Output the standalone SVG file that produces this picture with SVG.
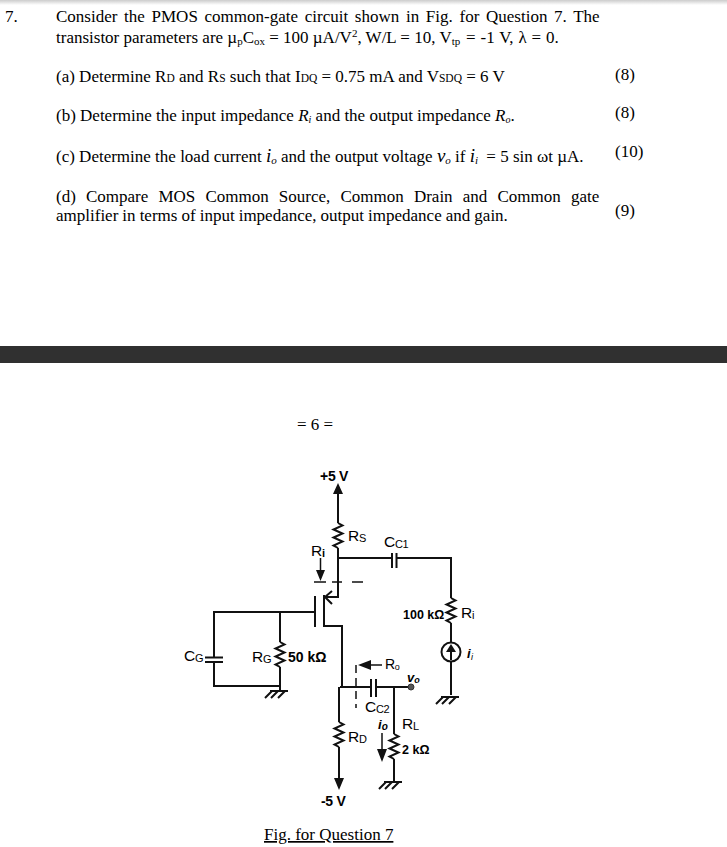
<svg xmlns="http://www.w3.org/2000/svg" width="727" height="847" viewBox="0 0 727 847">
<style>
text{fill:#000}
.s{font-family:"Liberation Serif","Times New Roman",serif;font-size:17px}
.i{font-style:italic}
.a{font-family:"Liberation Sans",Arial,sans-serif;font-size:15.500px;letter-spacing:-0.3px}
.b{font-family:"Liberation Sans",Arial,sans-serif;font-weight:bold;font-size:14px}
.w{fill:none;stroke:#111;stroke-width:2;stroke-linejoin:miter}
.t{fill:none;stroke:#111;stroke-width:1.5}
.ah{fill:#111;stroke:none}
</style>
<defs>
<linearGradient id="top" x1="0" y1="0" x2="0" y2="1"><stop offset="0" stop-color="#ccc"/><stop offset="1" stop-color="#fff"/></linearGradient>
<g id="gnd"><path class="w" d="M-10 0H8M-8 0l-7 7M-2 0l-7 7M5 0l-7 7"/></g>
<path id="res" class="w" d="M0 0L4.500 2.500L-4.500 6.500L4.500 10.500L-4.500 14.500L4.500 18.500L-4.500 22.500L0 25"/>
</defs>
<rect width="727" height="847" fill="#fff"/>
<rect width="727" height="5" fill="url(#top)"/>
<rect y="346" width="727" height="17" fill="#303030"/>
<g id="question">
<text class="s" x="5" y="22">7.</text>
<text class="s" x="56" y="22" word-spacing="2.450">Consider the PMOS common-gate circuit shown in Fig. for Question 7. The</text>
<text class="s" x="56" y="43">transistor parameters are µ<tspan font-size="11" dy="2">p</tspan><tspan dy="-2">C</tspan><tspan font-size="11" dy="2">ox</tspan><tspan dy="-2"> = 100 µA/V</tspan><tspan font-size="11" dy="-6">2</tspan><tspan dy="6">,  W/L = 10, V</tspan><tspan font-size="11" dy="2">tp</tspan><tspan dy="-2" dx="1" word-spacing="0.600"> = -1 V, λ = 0.</tspan></text>
<text class="s" x="56" y="82">(a) Determine R<tspan font-size="11.500">D</tspan> and R<tspan font-size="11.500">S</tspan> such that I<tspan font-size="11.500">DQ</tspan> = 0.75 mA and V<tspan font-size="11.500">SDQ</tspan> = 6 V</text>
<text class="s" x="56" y="121">(b) Determine the input impedance <tspan class="i">R</tspan><tspan class="i" font-size="10" dy="2">i</tspan><tspan dy="-2"> and the output impedance </tspan><tspan class="i">R</tspan><tspan class="i" font-size="10" dy="2">o</tspan><tspan dy="-2">.</tspan></text>
<text class="s" x="56" y="162">(c) Determine the load current <tspan class="i" font-size="19">i</tspan><tspan class="i" font-size="11" dy="2">o</tspan><tspan dy="-2"> and the output voltage </tspan><tspan class="i" font-size="19">v</tspan><tspan class="i" font-size="11" dy="2">o</tspan><tspan dy="-2"> if </tspan><tspan class="i" font-size="19">i</tspan><tspan class="i" font-size="11" dy="2">i</tspan><tspan dy="-2" dx="4">  = 5 sin ωt µA.</tspan></text>
<text class="s" x="56" y="202" word-spacing="5.900">(d) Compare MOS Common Source, Common Drain and Common gate</text>
<text class="s" x="56" y="221" word-spacing="-0.200">amplifier in terms of input impedance, output impedance and gain.</text>
<text class="s" x="615" y="80">(8)</text>
<text class="s" x="615" y="118">(8)</text>
<text class="s" x="615" y="157">(10)</text>
<text class="s" x="615" y="216">(9)</text>
<text class="s" x="297" y="430">= 6 =</text>
</g>
<g id="connectors">
<path class="w" d="M338 490V523M338 548V597H325M324 595V626H342V687M339 687V722M339 747V780"/>
<path class="w" d="M338 558H392M397 558H451V598M451 623V642M451 662V695"/>
<path class="w" d="M214 657V612H315M280 612V642M280 667V691M214 662V686H280"/>
<path class="w" d="M340 687H371M376 687H411M394 687V734M394 759V782"/>
<path class="w" d="M332 591L325 597L332 604" />
<path class="t" d="M314 582H326M332 582H342M352 582H363"/>
<path class="t" d="M356 665V708" stroke-dasharray="8 5"/>
<path class="t" d="M320.500 558V572M382 733V750M382 665H370"/>
<path class="ah" d="M338 483L333 494H343ZM339 790L334 778H344ZM320.500 581L316 570H325ZM358 665L371 660V670ZM382 762L377 749H387Z"/>
</g>
<g id="VDD"><text class="b" x="320" y="481" letter-spacing="-0.300">+5 V</text></g>
<g id="VSS"><text class="b" x="321" y="806" letter-spacing="-0.300">-5 V</text></g>
<g id="RS"><use href="#res" x="338" y="523"/><text class="a" x="348" y="541">R<tspan font-size="11" dy="1">S</tspan></text></g>
<g id="Ri-label"><text class="a" x="311" y="556">R<tspan font-size="11" font-weight="bold" dy="1">i</tspan></text></g>
<g id="CC1"><path class="w" d="M392 553V568M396.500 553V568"/><text class="a" x="384" y="547">C<tspan font-size="11" dy="1">C1</tspan></text></g>
<g id="M1"><path class="w" d="M315 596V627"/></g>
<g id="CG"><path class="w" d="M205 657.500H223M205 662H223"/><text class="a" x="184" y="661">C<tspan font-size="11" dy="1">G</tspan></text></g>
<g id="RG"><use href="#res" x="280" y="642"/><text class="a" x="252" y="662">R<tspan font-size="11" dy="1">G</tspan></text><text class="b" x="288" y="662">50 kΩ</text></g>
<g id="GND1"><use href="#gnd" x="280" y="691"/></g>
<g id="R100k"><use href="#res" x="451" y="598"/><text class="b" x="403" y="619" style="font-size:12.500px">100 kΩ</text><text class="a" x="461" y="618">R<tspan font-size="11" dy="1">i</tspan></text></g>
<g id="source"><circle cx="451" cy="652" r="9.500" fill="#fff" stroke="#111" stroke-width="2"/><path class="w" d="M451 660V650"/><path class="ah" d="M451 644L446 652H456Z"/><text class="b i" x="467" y="658" style="font-size:13px">i</text><text class="a i" x="471" y="660" style="font-size:9px">i</text></g>
<g id="GND2"><use href="#gnd" x="451" y="697"/></g>
<g id="Ro-label"><text class="a" x="385" y="669" style="font-size:14px">R<tspan font-size="9" dy="1">o</tspan></text></g>
<g id="CC2"><path class="w" d="M371 679V697M376 679V697"/><text class="a" x="365" y="712">C<tspan font-size="11" dy="1">C2</tspan></text></g>
<g id="vo"><circle cx="411" cy="687" r="3" fill="#555" stroke="#333"/><text class="b i" x="407" y="682" style="font-size:13px">v<tspan font-size="9" dy="1">o</tspan></text></g>
<g id="RD"><use href="#res" x="339" y="722"/><text class="a" x="348" y="742">R<tspan font-size="11" dy="1">D</tspan></text></g>
<g id="RL"><use href="#res" x="394" y="734"/><text class="a" x="402" y="729">R<tspan font-size="11" dy="1">L</tspan></text><text class="b" x="402" y="754" style="font-size:12.500px">2 kΩ</text></g>
<g id="io"><text class="b i" x="378" y="729" style="font-size:13px">i<tspan font-size="10" dy="1">o</tspan></text></g>
<g id="GND3"><use href="#gnd" x="394" y="782"/></g>
<g id="caption"><text class="s" x="264" y="840" text-decoration="underline">Fig. for Question 7</text></g>
</svg>
